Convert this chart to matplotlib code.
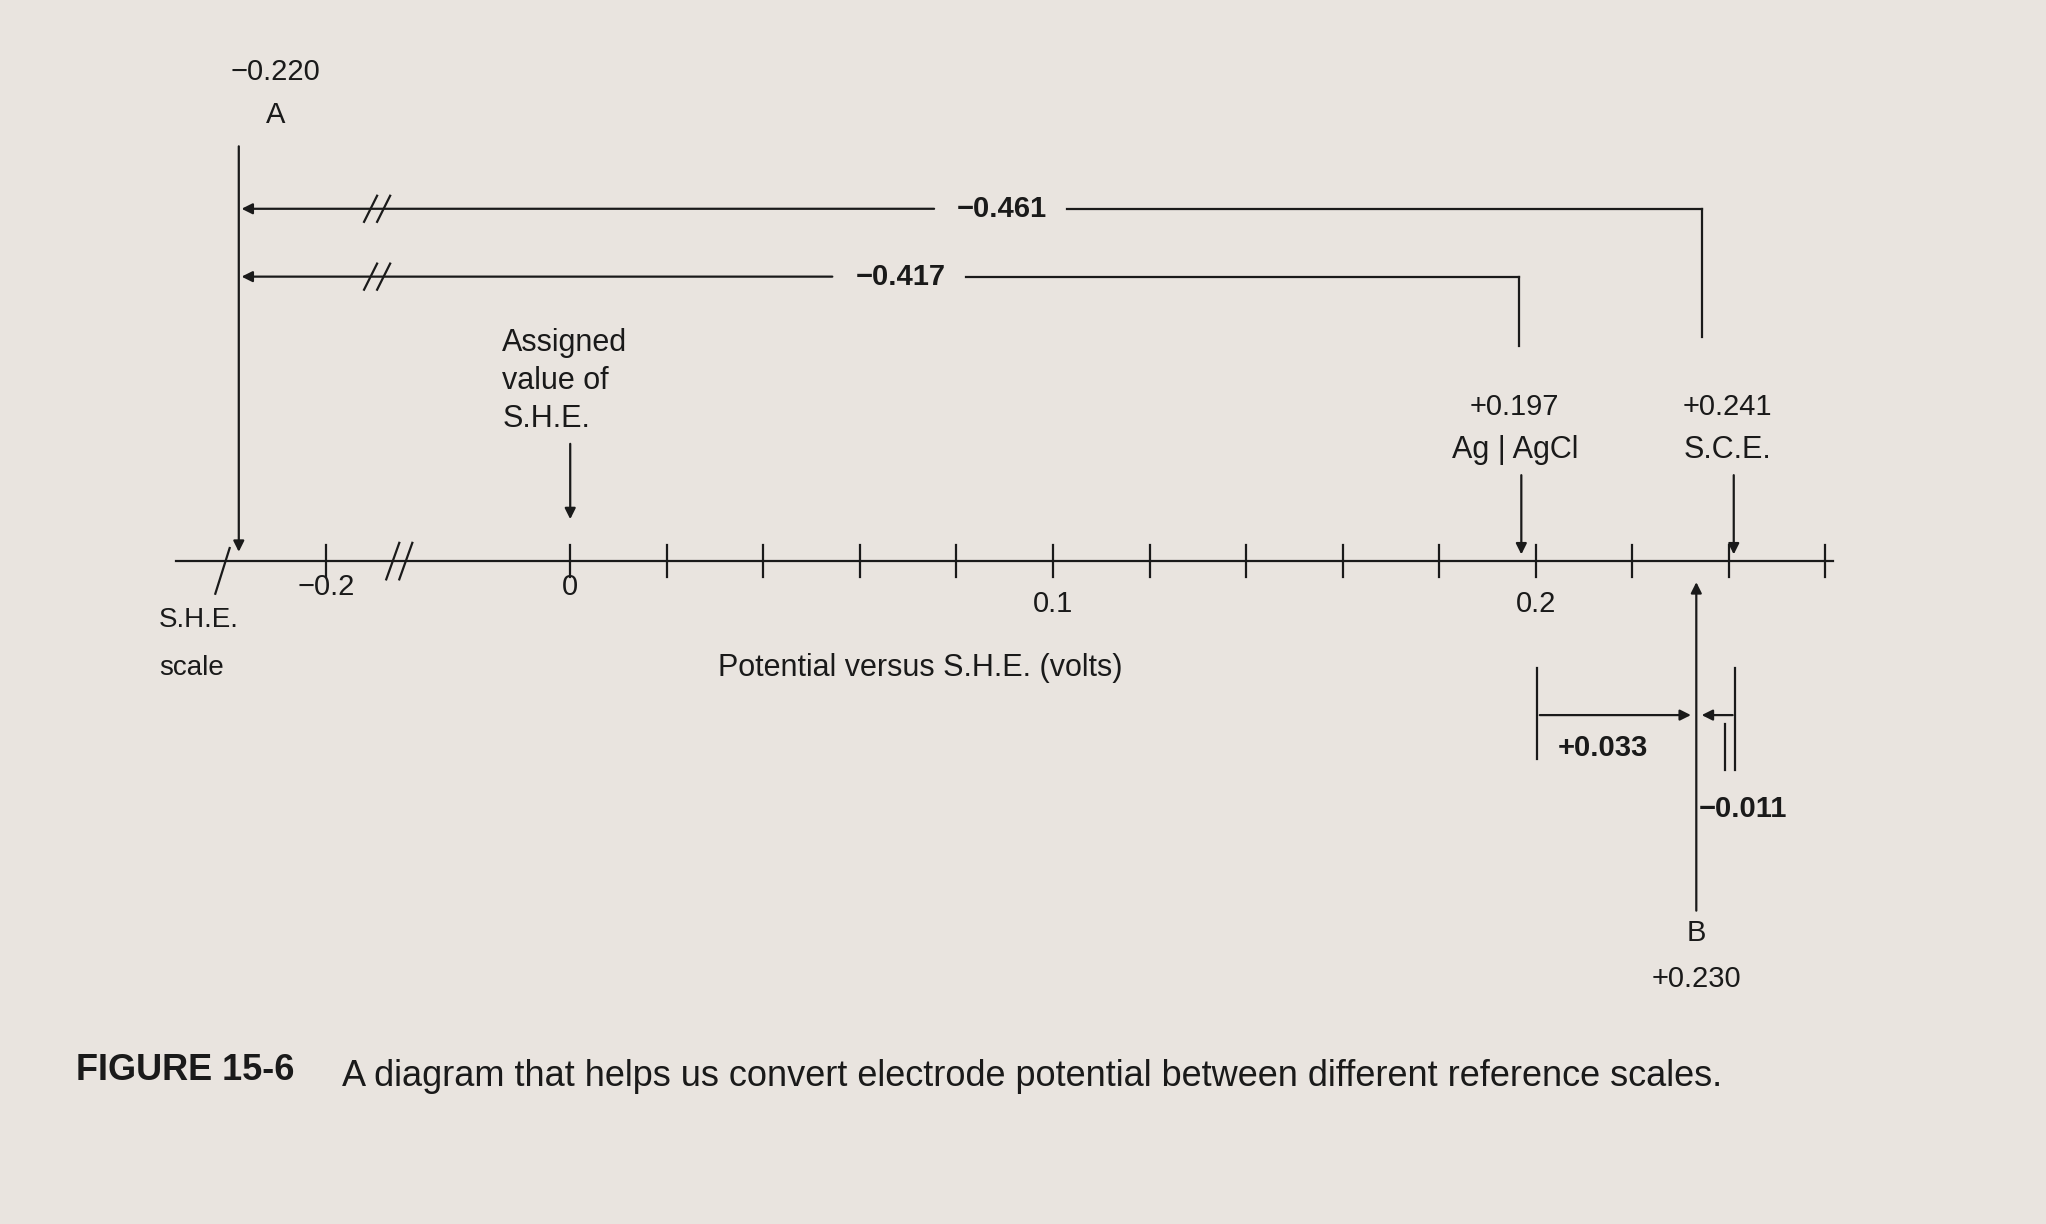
import matplotlib.pyplot as plt

plt.rcParams["font.family"] = ["Liberation Sans", "DejaVu Sans"]

# electrode potentials versus S.H.E. (volts)
she_value = 0.0
ag_agcl = 0.197
sce = 0.241
point_a = -0.220
point_b = 0.230
diffs = {"sce_a": -0.461, "agcl_a": -0.417, "b_agcl": 0.033, "b_sce": -0.011}
major_ticks = [-0.2, 0.0, 0.1, 0.2]
minor_ticks = [0.02, 0.04, 0.06, 0.08, 0.12, 0.14, 0.16, 0.18, 0.22, 0.24, 0.26]


def px(v):
    # broken axis: compressed left of the // mark
    if v < -0.1:
        return 250 + (v + 0.2) * 3350
    return 437 + v * 3700


def signed(v):
    return f"{v:+.3f}".replace("-", "\u2212")


fig = plt.figure(figsize=(20.46, 12.24), dpi=100)
fig.patch.set_facecolor("#e9e4df")
ax = fig.add_axes([0, 0, 1, 1])
ax.set_facecolor("#e9e4df")
ax.set_xlim(0, 1568)
ax.set_ylim(938, 0)
ax.axis("off")

fs = 21
lw = 1.6
k = "#1a1a1a"
axis_y = 430
arr = dict(arrowstyle="-|>", color=k, lw=lw, mutation_scale=16)

# main scale
ax.plot([135, 1405], [axis_y, axis_y], color=k, lw=lw)
ax.plot([296, 306], [axis_y + 14, axis_y - 14], color=k, lw=lw)
ax.plot([306, 316], [axis_y + 14, axis_y - 14], color=k, lw=lw)
for t in major_ticks + minor_ticks:
    ax.plot([px(t), px(t)], [axis_y - 12, axis_y + 12], color=k, lw=lw)
for t in major_ticks:
    lab = "0" if t == 0 else f"{t:g}".replace("-", "\u2212")
    dy = 20 if t <= 0 else 33
    ax.text(px(t), axis_y + dy, lab, ha="center", va="center", fontsize=fs, color=k)
ax.plot([165, 176], [455, 420], color=k, lw=lw)
ax.text(122, 475, "S.H.E.", fontsize=fs - 1, va="center", color=k)
ax.text(122, 512, "scale", fontsize=fs - 1, va="center", color=k)
ax.text(705, 512, "Potential versus S.H.E. (volts)", fontsize=fs + 1, ha="center", va="center", color=k)

# point A
xa = px(point_a)
ax.annotate("", xy=(xa, axis_y - 5), xytext=(xa, 110), arrowprops=arr)
ax.text(xa + 28, 55, f"{point_a:.3f}".replace("-", "\u2212"), fontsize=fs, ha="center", va="center", color=k)
ax.text(xa + 28, 88, "A", fontsize=fs, ha="center", va="center", color=k)

# S.H.E. assigned value
x0 = px(she_value)
ax.text(385, 292, "Assigned\nvalue of\nS.H.E.", fontsize=fs + 1, va="center", linespacing=1.35, color=k)
ax.annotate("", xy=(x0, axis_y - 30), xytext=(x0, 338), arrowprops=arr)

# reference electrodes
for v, name in [(ag_agcl, "Ag | AgCl"), (sce, "S.C.E.")]:
    x = px(v) - 5
    ax.text(x, 312, f"+{v:.3f}", fontsize=fs, ha="center", va="center", color=k)
    ax.text(x, 345, name, fontsize=fs + 1, ha="center", va="center", color=k)
    ax.annotate("", xy=(x + 5, axis_y - 3), xytext=(x + 5, 362), arrowprops=arr)

# differences to A
for key, v, y, lx, bottom in [("sce_a", sce, 160, 768, 258), ("agcl_a", ag_agcl, 212, 690, 265)]:
    x = px(v) - (24 if v == sce else 2)
    ax.plot([x, x], [bottom, y], color=k, lw=lw)
    ax.plot([x, lx + 50], [y, y], color=k, lw=lw)
    ax.annotate("", xy=(xa, y), xytext=(lx - 50, y), arrowprops=arr)
    ax.text(lx, y, signed(diffs[key]), fontsize=fs, fontweight="bold",
            ha="center", va="center", color=k)
    for dx in (284, 294):
        ax.plot([dx - 5, dx + 5], [y + 10, y - 10], color=k, lw=lw)

# point B
xb = px(point_b) + 12
ax.annotate("", xy=(xb, axis_y + 14), xytext=(xb, 700), arrowprops=arr)
ax.text(xb, 715, "B", fontsize=fs, ha="center", va="center", color=k)
ax.text(xb, 750, f"+{point_b:.3f}", fontsize=fs, ha="center", va="center", color=k)

x1 = px(ag_agcl) + 12
ax.plot([x1, x1], [512, 582], color=k, lw=lw)
ax.annotate("", xy=(xb - 2, 548), xytext=(x1, 548), arrowprops=arr)
ax.text(x1 + 16, 573, signed(diffs["b_agcl"]), fontsize=fs, fontweight="bold", va="center", color=k)

x2 = 1330
ax.plot([x2, x2], [512, 590], color=k, lw=lw)
ax.annotate("", xy=(xb + 2, 548), xytext=(x2, 548), arrowprops=arr)
ax.plot([1322, 1322], [555, 590], color=k, lw=lw)
ax.text(xb + 2, 620, signed(diffs["b_sce"]), fontsize=fs, fontweight="bold",
        va="center", color=k)

# caption
ax.text(58, 820, "FIGURE 15-6", fontsize=fs + 5, fontweight="bold", va="center", color=k)
ax.text(262, 825, "A diagram that helps us convert electrode potential between different reference scales.",
        fontsize=fs + 5, va="center", color=k)

fig.savefig("out.png", dpi=100, facecolor=fig.get_facecolor())
